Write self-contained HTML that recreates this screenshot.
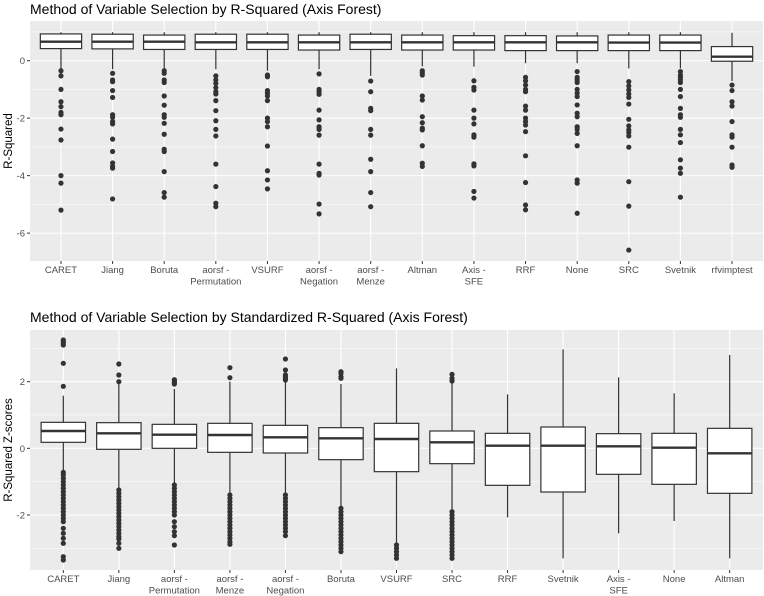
<!DOCTYPE html>
<html><head><meta charset="utf-8"><style>
body{margin:0;background:#fff;}
svg{display:block;font-family:"Liberation Sans",sans-serif;}
</style></head><body>
<svg id="chart" width="764" height="596"></svg>
<script>
// ---- top panel data ----
const topCats=["CARET","Jiang","Boruta","aorsf -\nPermutation","VSURF","aorsf -\nNegation","aorsf -\nMenze","Altman","Axis -\nSFE","RRF","None","SRC","Svetnik","rfvimptest"];
const topQ1=[0.42,0.41,0.39,0.39,0.39,0.37,0.39,0.37,0.37,0.35,0.35,0.35,0.35,-0.02];
const topMed=[0.66,0.66,0.66,0.64,0.64,0.64,0.64,0.64,0.64,0.64,0.64,0.63,0.63,0.14];
const topQ3=[0.93,0.92,0.89,0.92,0.92,0.89,0.92,0.89,0.87,0.87,0.86,0.89,0.89,0.49];
const topLo=[-0.27,-0.3,-0.27,-0.3,-0.35,-0.3,-0.53,-0.2,-0.21,-0.09,-0.09,-0.27,-0.27,-0.71];
const topHi=[0.99,0.99,0.99,0.99,0.99,0.99,0.99,0.99,0.99,0.99,0.99,0.99,0.99,0.97];
const topOut=[
[-0.35,-0.53,-1.0,-1.43,-1.6,-1.8,-1.88,-2.38,-2.76,-4.0,-4.26,-5.2],
[-0.44,-0.67,-0.73,-1.04,-1.28,-1.88,-1.97,-2.12,-2.2,-2.73,-3.16,-3.56,-3.68,-3.74,-4.81],
[-0.35,-0.44,-0.67,-0.76,-1.23,-1.55,-1.88,-1.97,-2.18,-2.56,-3.08,-3.16,-3.86,-4.59,-4.75],
[-0.53,-0.67,-0.79,-0.94,-1.08,-1.16,-1.39,-1.74,-2.09,-2.39,-2.62,-3.6,-4.38,-4.96,-5.08],
[-0.5,-0.56,-1.04,-1.13,-1.23,-1.39,-2.0,-2.12,-2.3,-2.97,-3.83,-4.15,-4.46],
[-0.46,-1.0,-1.08,-1.17,-1.72,-2.06,-2.3,-2.39,-2.59,-3.6,-3.92,-3.98,-4.99,-5.33],
[-0.71,-1.08,-1.66,-1.74,-2.39,-2.59,-3.43,-3.86,-4.59,-5.08],
[-0.35,-0.42,-0.5,-1.23,-1.37,-1.95,-2.16,-2.35,-2.41,-2.96,-3.57,-3.68],
[-0.7,-0.93,-1.02,-1.72,-2.0,-2.2,-2.58,-2.66,-3.59,-3.66,-4.55,-4.78],
[-0.58,-0.7,-0.85,-1.0,-1.08,-1.58,-1.72,-2.0,-2.12,-2.24,-2.47,-3.31,-4.24,-5.02,-5.19],
[-0.38,-0.58,-0.67,-0.76,-1.0,-1.13,-1.25,-1.54,-1.83,-1.95,-2.3,-2.39,-2.53,-2.96,-4.15,-4.26,-5.31],
[-0.73,-0.88,-1.02,-1.16,-1.28,-1.51,-2.04,-2.27,-2.41,-2.5,-2.62,-3.01,-4.21,-5.06,-6.59],
[-0.38,-0.5,-0.58,-0.67,-0.76,-1.0,-1.25,-1.66,-1.88,-1.97,-2.39,-2.58,-2.85,-3.45,-3.74,-3.92,-4.75],
[-0.85,-1.04,-1.43,-1.58,-2.12,-2.58,-2.66,-3.01,-3.63,-3.71]];
const topTicks=[0,-2,-4,-6];
// ---- bottom panel data ----
const botCats=["CARET","Jiang","aorsf -\nPermutation","aorsf -\nMenze","aorsf -\nNegation","Boruta","VSURF","SRC","RRF","Svetnik","Axis -\nSFE","None","Altman"];
const botQ1=[0.18,-0.03,0.0,-0.12,-0.14,-0.34,-0.7,-0.46,-1.11,-1.31,-0.78,-1.08,-1.35];
const botMed=[0.52,0.45,0.41,0.4,0.33,0.3,0.28,0.18,0.08,0.08,0.06,0.02,-0.15];
const botQ3=[0.78,0.77,0.72,0.75,0.69,0.62,0.75,0.52,0.45,0.64,0.44,0.45,0.6];
const botLo=[-0.67,-1.22,-1.05,-1.38,-1.35,-1.77,-2.88,-1.9,-2.07,-3.3,-2.55,-2.18,-3.3];
const botHi=[1.58,1.97,1.78,2.0,1.98,1.93,2.4,2.0,1.62,2.97,2.13,1.65,2.8];
const botOut=[
[1.86,2.55,3.1,3.15,3.2,3.25,-0.72,-0.8,-0.9,-1.0,-1.1,-1.2,-1.3,-1.4,-1.5,-1.6,-1.7,-1.8,-1.9,-2.0,-2.1,-2.2,-2.4,-2.55,-2.7,-2.85,-3.25,-3.35],
[2.0,2.2,2.53,-1.25,-1.35,-1.45,-1.55,-1.65,-1.75,-1.85,-1.95,-2.05,-2.15,-2.25,-2.35,-2.45,-2.55,-2.65,-2.72,-2.85,-3.0],
[1.93,1.97,2.02,2.06,-1.1,-1.2,-1.3,-1.4,-1.5,-1.6,-1.7,-1.8,-1.9,-2.0,-2.2,-2.35,-2.5,-2.62,-2.9],
[2.12,2.42,-1.4,-1.5,-1.6,-1.7,-1.8,-1.9,-2.0,-2.1,-2.2,-2.3,-2.4,-2.5,-2.6,-2.7,-2.8,-2.88],
[2.05,2.1,2.15,2.2,2.35,2.68,-1.4,-1.5,-1.6,-1.7,-1.8,-1.9,-2.0,-2.1,-2.2,-2.3,-2.4,-2.5,-2.62],
[2.1,2.15,2.25,2.3,-1.8,-1.9,-2.0,-2.1,-2.2,-2.3,-2.4,-2.5,-2.6,-2.7,-2.8,-2.9,-3.0,-3.1],
[-2.9,-3.0,-3.1,-3.2,-3.3],
[2.02,2.1,2.22,-1.9,-2.0,-2.1,-2.2,-2.3,-2.4,-2.5,-2.6,-2.7,-2.8,-2.9,-3.0,-3.1,-3.2,-3.3],
[],[],[],[],[]];
const botTicks=[2,0,-2];

const NS="http://www.w3.org/2000/svg";
const svg=document.getElementById('chart');
function mk(tag,attrs,parent){const e=document.createElementNS(NS,tag);for(const k in attrs)e.setAttribute(k,attrs[k]);(parent||svg).appendChild(e);return e;}

function panel(cfg){
  const {name,title,ytitle,cats,q1,med,q3,lo,hi,out,ticks,minor,L,R,T,B,vmin,vmax,titleY,ytitleY}=cfg;
  const g=mk('g',{});
  
  
  const y=v=>T+(vmax-v)/(vmax-vmin)*(B-T);
  const n=cats.length;const step=(R-L)/(n+0.2);
  const x=i=>L+step*(0.6+i);
  const bg=mk('rect',{x:L,y:T,width:R-L,height:B-T,fill:'#ebebeb'},g);
  
  
  minor.forEach(v=>mk('line',{x1:L,x2:R,y1:y(v),y2:y(v),stroke:'#fff','stroke-width':0.5},g));
  ticks.forEach(v=>{
    mk('line',{x1:L,x2:R,y1:y(v),y2:y(v),stroke:'#fff','stroke-width':1.1},g);
    mk('line',{x1:L-3,x2:L,y1:y(v),y2:y(v),stroke:'#333','stroke-width':1},g);
    const t=mk('text',{x:L-5,y:y(v)+3.5,'text-anchor':'end','font-size':9.5,fill:'#4d4d4d'},g);
    t.textContent=String(v);
    
    
  });
  for(let i=0;i<n;i++){
    const cx=x(i);
    mk('line',{x1:cx,x2:cx,y1:T,y2:B,stroke:'#fff','stroke-width':1.1},g);
  }
  for(let i=0;i<n;i++){
    const cx=x(i),w=step*0.8;
    const bx=mk('g',{},g);
    
    
    mk('line',{x1:cx,x2:cx,y1:y(hi[i]),y2:y(q3[i]),stroke:'#333','stroke-width':1.2},bx);
    mk('line',{x1:cx,x2:cx,y1:y(q1[i]),y2:y(lo[i]),stroke:'#333','stroke-width':1.2},bx);
    mk('rect',{x:cx-w/2,y:y(q3[i]),width:w,height:y(q1[i])-y(q3[i]),fill:'#fff',stroke:'#333','stroke-width':1.2},bx);
    mk('line',{x1:cx-w/2,x2:cx+w/2,y1:y(med[i]),y2:y(med[i]),stroke:'#333','stroke-width':2.4},bx);
    out[i].forEach(v=>{const c=mk('circle',{cx:cx,cy:y(v),r:2.6,fill:'#333'},bx);
      
      });
    mk('line',{x1:cx,x2:cx,y1:B,y2:B+3,stroke:'#333','stroke-width':1},g);
    const lines=cats[i].split('\n');
    lines.forEach((s,k)=>{const t=mk('text',{x:cx,y:B+12+k*11.5,'text-anchor':'middle','font-size':9.5,fill:'#4d4d4d'},g);t.textContent=s;
      
      });
  }
  const tt=mk('text',{x:L,y:titleY,'font-size':14,fill:'#000'},g);tt.textContent=title;
  
  
  const yt=mk('text',{x:0,y:0,'font-size':11.5,fill:'#000','text-anchor':'middle',transform:`translate(12,${ytitleY}) rotate(-90)`},g);yt.textContent=ytitle;
  
  
}
panel({name:'r-squared-panel',title:'Method of Variable Selection by R-Squared (Axis Forest)',ytitle:'R-Squared',
  cats:topCats,q1:topQ1,med:topMed,q3:topQ3,lo:topLo,hi:topHi,out:topOut,ticks:topTicks,minor:[1,-1,-3,-5],
  L:30,R:763,T:21,B:261,vmin:-6.97,vmax:1.38,titleY:14,ytitleY:141});
panel({name:'z-score-panel',title:'Method of Variable Selection by Standardized R-Squared (Axis Forest)',ytitle:'R-Squared Z-scores',
  cats:botCats,q1:botQ1,med:botMed,q3:botQ3,lo:botLo,hi:botHi,out:botOut,ticks:botTicks,minor:[3,1,-1,-3],
  L:30,R:763,T:330,B:570,vmin:-3.65,vmax:3.55,titleY:322,ytitleY:450});
</script>
</body></html>
